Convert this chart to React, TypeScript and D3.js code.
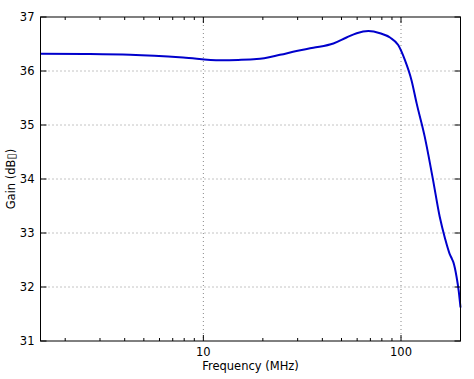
import React from "react";
import * as d3 from "d3";

const freqMHz = [1.5, 2.5, 4.26, 7.9, 12.2, 15, 18.6, 24.4, 29.6, 36, 45.5, 53, 59.7, 68.4, 78.3, 88, 96.8, 104.7, 113, 120, 131.9, 138, 145.3, 157, 167, 176, 181, 184, 191, 196, 200];
const gainDB = [36.32, 36.315, 36.30, 36.25, 36.20, 36.205, 36.22, 36.30, 36.37, 36.43, 36.51, 36.62, 36.70, 36.74, 36.70, 36.62, 36.48, 36.20, 35.83, 35.40, 34.78, 34.42, 33.98, 33.30, 32.90, 32.62, 32.52, 32.46, 32.19, 31.92, 31.62];
const xTicks = [10, 100];
const yTicks = [31, 32, 33, 34, 35, 36, 37];

export default function App() {
  const W = 474, H = 379;
  const m = { left: 40.5, right: 460.5, top: 17, bottom: 341 };
  const x = d3.scaleLog().domain([1.5, 200]).range([m.left, m.right]);
  const y = d3.scaleLinear().domain([31, 37]).range([m.bottom, m.top]);
  const minor: number[] = [];
  for (const dec of [1, 10, 100]) for (let k = 2; k <= 9; k++) { const v = k * dec; if (v >= 1.5 && v <= 200) minor.push(v); }
  const line = d3.line<number>().x((_, i) => x(freqMHz[i])).y(d => y(d)).curve(d3.curveMonotoneX);
  const font = "'DejaVu Sans', sans-serif";
  return (
    <svg width={W} height={H} style={{ position: "absolute", left: 0, top: 0, background: "#fff" }}>
      {xTicks.map(t => (
        <line key={"gx" + t} x1={x(t)} x2={x(t)} y1={m.top} y2={m.bottom} stroke="#888" strokeDasharray="1,3" strokeWidth={1} />
      ))}
      {yTicks.slice(1, -1).map(t => (
        <line key={"gy" + t} x1={m.left} x2={m.right} y1={y(t)} y2={y(t)} stroke="#888" strokeDasharray="1,3" strokeWidth={1} />
      ))}
      <path d={line(gainDB) || ""} fill="none" stroke="#0000cc" strokeWidth={2} />
      <rect x={m.left} y={m.top} width={m.right - m.left} height={m.bottom - m.top} fill="none" stroke="#000" strokeWidth={1} />
      {xTicks.map(t => (
        <g key={"tx" + t}>
          <line x1={x(t)} x2={x(t)} y1={m.bottom} y2={m.bottom - 6} stroke="#000" />
          <line x1={x(t)} x2={x(t)} y1={m.top} y2={m.top + 6} stroke="#000" />
          <text x={x(t)} y={m.bottom + 15} textAnchor="middle" fontFamily={font} fontSize={11.5}>{t}</text>
        </g>
      ))}
      {minor.map(t => (
        <g key={"mx" + t}>
          <line x1={x(t)} x2={x(t)} y1={m.bottom} y2={m.bottom - 3} stroke="#000" />
          <line x1={x(t)} x2={x(t)} y1={m.top} y2={m.top + 3} stroke="#000" />
        </g>
      ))}
      {yTicks.map(t => (
        <g key={"ty" + t}>
          <line x1={m.left} x2={m.left + 6} y1={y(t)} y2={y(t)} stroke="#000" />
          <line x1={m.right} x2={m.right - 6} y1={y(t)} y2={y(t)} stroke="#000" />
          <text x={m.left - 6} y={y(t) + 4} textAnchor="end" fontFamily={font} fontSize={11.5}>{t}</text>
        </g>
      ))}
      <text x={(m.left + m.right) / 2} y={370} textAnchor="middle" fontFamily={font} fontSize={11.5}>Frequency (MHz)</text>
      <text transform={`translate(15,${(m.top + m.bottom) / 2}) rotate(-90)`} textAnchor="middle" fontFamily={font} fontSize={11.5}>Gain (dB▯)</text>
    </svg>
  );
}
